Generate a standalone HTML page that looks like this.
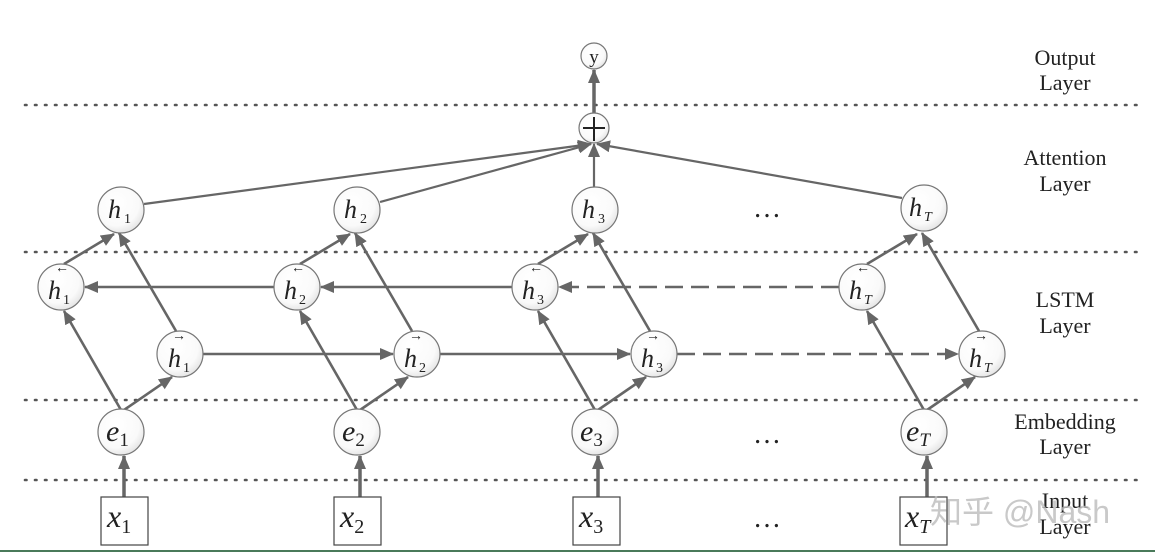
<!DOCTYPE html>
<html><head><meta charset="utf-8"><style>
body{margin:0;background:#fff;width:1155px;height:555px;overflow:hidden}
svg text{font-family:"Liberation Serif",serif;fill:#222}
</style></head><body>
<svg width="1155" height="555" viewBox="0 0 1155 555" xmlns="http://www.w3.org/2000/svg">
<defs>
<marker id="b" markerWidth="14" markerHeight="12" refX="13" refY="6" orient="auto" markerUnits="userSpaceOnUse"><path d="M0,0 L14,6 L0,12 z" fill="#666"/></marker>
<radialGradient id="g" cx="40%" cy="35%" r="70%"><stop offset="0" stop-color="#fff"/><stop offset="0.7" stop-color="#fafafa"/><stop offset="1" stop-color="#e2e2e2"/></radialGradient>
</defs>
<g stroke="#555" stroke-width="2.6" stroke-dasharray="1.5 8.5" stroke-linecap="round">
<line x1="25" y1="105" x2="1140" y2="105"/><line x1="25" y1="252" x2="1140" y2="252"/>
<line x1="25" y1="400" x2="1140" y2="400"/><line x1="25" y1="480" x2="1140" y2="480"/>
</g>
<line x1="0" y1="551" x2="1155" y2="551" stroke="#4a7a5a" stroke-width="2"/>
<g stroke="#666" stroke-width="2.2" fill="none">
<line x1="144" y1="204" x2="591" y2="144" marker-end="url(#b)"/>
<line x1="380" y1="202" x2="591" y2="144" marker-end="url(#b)"/>
<line x1="594" y1="187" x2="594" y2="144" marker-end="url(#b)"/>
<line x1="902" y1="198" x2="597" y2="144" marker-end="url(#b)"/>
<line x1="594" y1="113" x2="594" y2="70" stroke-width="3.5" marker-end="url(#b)"/>
</g>
<g stroke="#666" stroke-width="2.6" fill="none">
<g id="c1">
<line x1="124" y1="497" x2="124" y2="456" stroke-width="3.5" marker-end="url(#b)"/>
<line x1="121" y1="410" x2="64" y2="311" marker-end="url(#b)"/>
<line x1="124" y1="410" x2="172" y2="377" marker-end="url(#b)"/>
<line x1="176" y1="331" x2="119" y2="233" marker-end="url(#b)"/>
<line x1="64" y1="264" x2="114" y2="234" marker-end="url(#b)"/>
</g>
<use href="#c1" x="236"/><use href="#c1" x="474"/><use href="#c1" x="803"/>
<line x1="274" y1="287" x2="85" y2="287" marker-end="url(#b)"/>
<line x1="512" y1="287" x2="321" y2="287" marker-end="url(#b)"/>
<line x1="839" y1="287" x2="559" y2="287" stroke-dasharray="18 8" marker-end="url(#b)"/>
<line x1="203" y1="354" x2="393" y2="354" marker-end="url(#b)"/>
<line x1="440" y1="354" x2="630" y2="354" marker-end="url(#b)"/>
<line x1="677" y1="354" x2="958" y2="354" stroke-dasharray="18 8" marker-end="url(#b)"/>
</g>
<g stroke="#777" stroke-width="1.2" fill="url(#g)">
<circle cx="121" cy="210" r="23"/><circle cx="357" cy="210" r="23"/><circle cx="595" cy="210" r="23"/><circle cx="924" cy="208" r="23"/>
<circle cx="61" cy="287" r="23"/><circle cx="297" cy="287" r="23"/><circle cx="535" cy="287" r="23"/><circle cx="862" cy="287" r="23"/>
<circle cx="180" cy="354" r="23"/><circle cx="417" cy="354" r="23"/><circle cx="654" cy="354" r="23"/><circle cx="982" cy="354" r="23"/>
<circle cx="121" cy="432" r="23"/><circle cx="357" cy="432" r="23"/><circle cx="595" cy="432" r="23"/><circle cx="924" cy="432" r="23"/>
<circle cx="594" cy="128" r="15"/><circle cx="594" cy="56" r="13"/>
</g>
<g stroke="#222" stroke-width="2"><line x1="583" y1="128" x2="605" y2="128"/><line x1="594" y1="117" x2="594" y2="141"/></g>
<text x="594" y="63" font-size="19" text-anchor="middle">y</text>
<g fill="#fff" stroke="#444" stroke-width="1.2">
<rect x="101" y="497" width="47" height="48"/><rect x="334" y="497" width="47" height="48"/><rect x="573" y="497" width="47" height="48"/><rect x="900" y="497" width="47" height="48"/>
</g>
<g font-style="italic" font-size="26">
<text x="108" y="218">h<tspan font-size="14" font-style="normal" dx="3" dy="5">1</tspan></text>
<text x="344" y="218">h<tspan font-size="14" font-style="normal" dx="3" dy="5">2</tspan></text>
<text x="582" y="218">h<tspan font-size="14" font-style="normal" dx="3" dy="5">3</tspan></text>
<text x="909" y="216">h<tspan font-size="14" dx="2" dy="5">T</tspan></text>
<text x="48" y="299">h<tspan font-size="14" font-style="normal" dx="2" dy="5">1</tspan></text>
<text x="284" y="299">h<tspan font-size="14" font-style="normal" dx="2" dy="5">2</tspan></text>
<text x="522" y="299">h<tspan font-size="14" font-style="normal" dx="2" dy="5">3</tspan></text>
<text x="849" y="299">h<tspan font-size="14" dx="2" dy="5">T</tspan></text>
<text x="168" y="367">h<tspan font-size="14" font-style="normal" dx="2" dy="5">1</tspan></text>
<text x="404" y="367">h<tspan font-size="14" font-style="normal" dx="2" dy="5">2</tspan></text>
<text x="641" y="367">h<tspan font-size="14" font-style="normal" dx="2" dy="5">3</tspan></text>
<text x="969" y="367">h<tspan font-size="14" dx="2" dy="5">T</tspan></text>
<text x="106" y="441" font-size="30">e<tspan font-size="19" font-style="normal" dy="5">1</tspan></text>
<text x="342" y="441" font-size="30">e<tspan font-size="19" font-style="normal" dy="5">2</tspan></text>
<text x="580" y="441" font-size="30">e<tspan font-size="19" font-style="normal" dy="5">3</tspan></text>
<text x="906" y="441" font-size="30">e<tspan font-size="19" dy="5">T</tspan></text>
<text x="107" y="527" font-size="32">x<tspan font-size="20" font-style="normal" dy="6">1</tspan></text>
<text x="340" y="527" font-size="32">x<tspan font-size="20" font-style="normal" dy="6">2</tspan></text>
<text x="579" y="527" font-size="32">x<tspan font-size="20" font-style="normal" dy="6">3</tspan></text>
<text x="905" y="527" font-size="32">x<tspan font-size="20" dy="6">T</tspan></text>
</g>
<g font-size="14">
<text x="55" y="272">←</text><text x="291" y="272">←</text><text x="529" y="272">←</text><text x="856" y="272">←</text>
<text x="172" y="340">→</text><text x="409" y="340">→</text><text x="646" y="340">→</text><text x="974" y="340">→</text>
</g>
<g font-size="28" text-anchor="middle"><text x="767" y="217">…</text><text x="767" y="443">…</text><text x="767" y="527">…</text></g>
<g font-size="22" text-anchor="middle">
<text x="1065" y="65">Output</text><text x="1065" y="90">Layer</text>
<text x="1065" y="165">Attention</text><text x="1065" y="191">Layer</text>
<text x="1065" y="307">LSTM</text><text x="1065" y="333">Layer</text>
<text x="1065" y="429">Embedding</text><text x="1065" y="454">Layer</text>
<text x="1065" y="508">Input</text><text x="1065" y="534">Layer</text>
</g>
<text x="930" y="523" font-size="32" style="font-family:'Liberation Sans','Noto Sans CJK SC',sans-serif;fill:#bbb;fill-opacity:0.8">知乎 @Nash</text>
</svg>
</body></html>
